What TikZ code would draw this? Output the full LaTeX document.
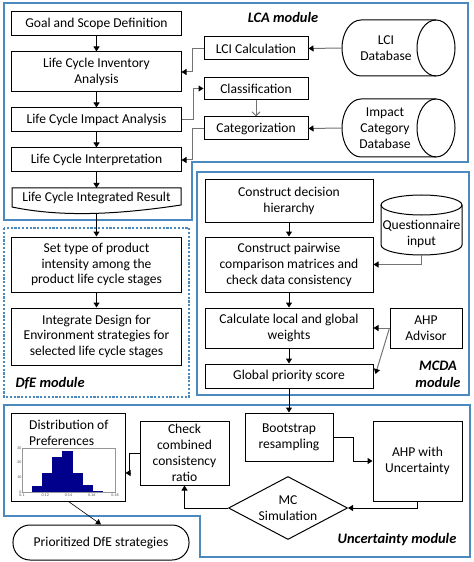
\documentclass[tikz,border=0pt]{standalone}
\usepackage{fontspec}
\setmainfont{Carlito}
\usetikzlibrary{arrows.meta,shapes.geometric,calc}
\definecolor{modblue}{RGB}{74,138,190}
\definecolor{lgray}{RGB}{115,115,115}
\definecolor{barblue}{RGB}{0,0,140}
\definecolor{axgray}{RGB}{150,150,150}
\begin{document}
\begin{tikzpicture}[x=1bp,y=-1bp,
  font=\fontsize{13.6}{16}\selectfont,
  lw/.style={line width=1bp},
  box/.style 2 args={draw, lw, align=center, inner sep=0pt, minimum width=#1bp, minimum height=#2bp},
  modline/.style={draw=modblue, line width=1.3bp},
  arr/.style={lw, -{Triangle[length=5bp,width=6bp]}},
  garr/.style={draw=lgray, lw, -{Triangle[length=5bp,width=6bp,color=black]}},
  modlabel/.style={font=\fontsize{14.5}{17}\selectfont\bfseries\itshape, align=center},
  tick/.style={font=\fontsize{4}{4}\selectfont, text=black!70, inner sep=0.5pt}
]
\useasboundingbox (0,0) rectangle (474,562);

% ---------- module frames ----------
\draw[modline] (4,3) -- (468,3) -- (468,162) -- (192,162) -- (192,220) -- (4,220) -- cycle;
\draw[modline] (197,172) rectangle (469,395);
\draw[draw=modblue, line width=1.1bp, dash pattern=on 2.2bp off 1.6bp] (4,228) rectangle (189,397);
\draw[modline] (4,405) -- (470,405) -- (470,557) -- (200,557) -- (200,516) -- (4,516) -- cycle;

% ---------- LCA module ----------
\node[box={169}{24}] (goal) at (96.5,24) {Goal and Scope Definition};
\node[box={169}{40}] (lci) at (96.5,72) {Life Cycle Inventory\\Analysis};
\node[box={169}{24}] (lcia) at (96.5,120) {Life Cycle Impact Analysis};
\node[box={169}{24}] (interp) at (96.5,160) {Life Cycle Interpretation};
\draw[lw] (12,188) -- (181,188) -- (181,205) .. controls (115,215) and (60,217) .. (12,207) -- cycle;
\node[inner sep=0pt] (result) at (96.5,198) {Life Cycle Integrated Result};
\coordinate (resbot) at (96.5,213.5);

\node[box={104}{23}] (lcicalc) at (256,48.5) {LCI Calculation};
\node[box={104}{22}] (classif) at (256,88.5) {Classification};
\node[box={104}{23}] (categ) at (256,128.5) {Categorization};

% LCI database cylinder
\draw[lw] (436,20) -- (361,20) arc[start angle=270, end angle=90, x radius=19, y radius=28] -- (436,76);
\draw[lw] (436,48) ellipse[x radius=19, y radius=28];
\node[align=center] (lcidb) at (386,48) {LCI\\Database};
\coordinate (lcidbW) at (342,48);
% Impact category database cylinder
\draw[lw] (436,99) -- (361,99) arc[start angle=270, end angle=90, x radius=19, y radius=29] -- (436,157);
\draw[lw] (436,128) ellipse[x radius=19, y radius=29];
\node[align=center] (icdb) at (385,128.5) {Impact\\Category\\Database};
\coordinate (icdbW) at (342,128);

\node[modlabel] (lcalab) at (283,17) {LCA module};

\draw[arr] (goal.south) -- (lci.north);
\draw[arr] (lci.south) -- (lcia.north);
\draw[arr] (lcia.south) -- (interp.north);
\draw[arr] (interp.south) -- (result.north |- 0,188);
\draw[garr] (lcicalc.west) -- ++(-11,0) |- (lci.east);
\draw[garr] (lcia.east) -- ++(12,0) |- (classif.west);
\draw[garr] (categ.west) -- ++(-11,0) |- (interp.east);
\draw[garr] (lcidbW) -- (lcicalc.east);
\draw[garr] (icdbW) -- (categ.east);
\draw[draw=lgray, lw, -{Straight Barb[length=4bp,width=8bp]}] (classif.south) -- (categ.north);

% ---------- DfE module ----------
\node[box={169}{55}] (settype) at (96.5,264.5) {Set type of product\\intensity among the\\product life cycle stages};
\node[box={169}{57}] (integ) at (96.5,336.5) {Integrate Design for\\Environment strategies for\\selected life cycle stages};
\node[modlabel, anchor=west] (dfelab) at (12,383) {DfE module};
\draw[arr] (resbot) -- (settype.north);
\draw[arr] (settype.south) -- (integ.north);

% ---------- MCDA module ----------
\node[box={168}{42}] (hier) at (289,201) {Construct decision\\hierarchy};
\node[box={168}{55}] (pair) at (289,264.5) {Construct pairwise\\comparison matrices and\\check data consistency};
\node[box={168}{40}] (calc) at (289,328) {Calculate local and global\\weights};
\node[box={168}{24}] (glob) at (289,376) {Global priority score};
\node[box={72}{40}] (adv) at (426,328) {AHP\\Advisor};
% questionnaire cylinder
\draw[lw] (381,205) -- (381,245) arc[start angle=180, end angle=0, x radius=40.5, y radius=10] -- (462,205);
\draw[lw] (421.5,205) ellipse[x radius=40.5, y radius=10];
\node[align=center] (quest) at (421.5,233.5) {Questionnaire\\input};
\coordinate (questS) at (421.5,255);
\node[modlabel] (mcdalab) at (438,374) {MCDA\\module};

\draw[arr] (hier.south) -- (pair.north);
\draw[arr] (pair.south) -- (calc.north);
\draw[arr] (calc.south) -- (glob.north);
\draw[garr] (questS) |- (pair.east);
\draw[garr] (adv.west) -- (calc.east);
\draw[garr] (adv.west) -- ([xshift=2bp,yshift=2bp]glob.east);

% ---------- Uncertainty module ----------
\node[box={88}{48}] (boot) at (289,437) {Bootstrap\\resampling};
\node[box={89}{80}] (ahpu) at (417.5,461) {AHP with\\Uncertainty};
\node[draw, lw, diamond, aspect=1.9, minimum width=119bp, minimum height=63bp, inner sep=0pt, align=center] (mc) at (288,508) {MC\\Simulation};
\node[box={89}{64}] (check) at (184.5,453) {Check\\combined\\consistency\\ratio};
\node[box={113}{88}] (dist) at (68.5,457) {};
\node[draw, lw, rounded corners=17bp, minimum width=176bp, minimum height=35bp, inner sep=0pt] (prior) at (101,542.5) {Prioritized DfE strategies};
\node[modlabel] (unclab) at (397,540) {Uncertainty module};

% histogram inside dist
\node[anchor=west, align=left, inner sep=0pt] (disttitle) at (29,433) {Distribution of\\Preferences};
\foreach \h [count=\i from 0] in {4,13,24,28,13,5,1} {
  \fill[barblue] ({31.7+\i*10.24},492) rectangle ({31.7+(\i+1)*10.24},{492-\h*1.467});
}
\draw[axgray, line width=0.4bp] (22,448) rectangle (115,492);
\foreach \v/\yy in {0/492,10/477.3,20/462.7,30/448} {
  \node[tick, anchor=east] at (22,\yy) {\v};
}
\foreach \lab/\xx in {0.1/22,0.12/45.25,0.14/68.5,0.16/91.75,0.18/115} {
  \node[tick, anchor=north] at (\xx,493.5) {\lab};
}

\draw[arr] (glob.south) -- (boot.north);
\draw[arr] (boot.east) -- ++(20,0) |- (ahpu.west);
\draw[arr] (ahpu.south) |- (mc.east);
\draw[arr] (mc.west) -| (check.south);
\draw[arr] (check.west) -- ++(-10,0) |- ([yshift=-16bp]dist.east);
\draw[line width=0.6bp, -{Triangle[length=5bp,width=6bp]}] (dist.south) -- (prior.north);
\end{tikzpicture}
\end{document}
